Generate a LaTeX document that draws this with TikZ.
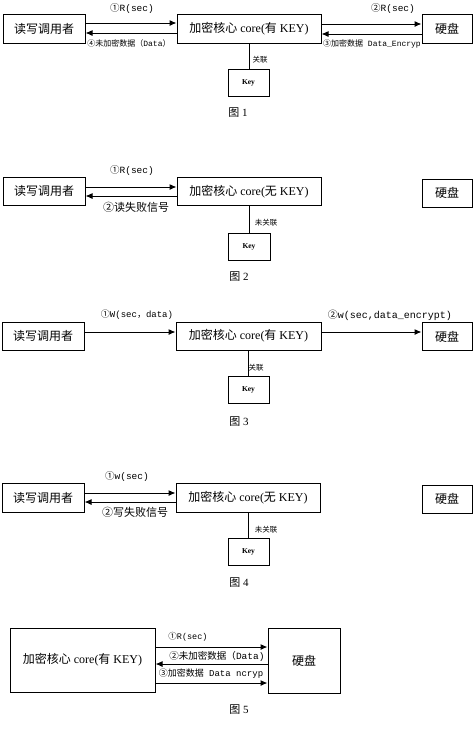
\documentclass[tikz,border=0pt]{standalone}
\usepackage{fontspec}
\setmainfont{Liberation Serif}
\setmonofont{Liberation Mono}
\newfontfamily\cjk{Noto Sans CJK SC}
\usetikzlibrary{arrows.meta}
\tikzset{
  box/.style={draw, line width=1pt, inner sep=0pt, font=\fontsize{12}{14}\selectfont},
  keybox/.style={draw, line width=1pt, inner sep=0pt, minimum width=41pt, minimum height=27pt, font=\bfseries\fontsize{7.5}{9}\selectfont},
  lab/.style={inner sep=0pt, font=\ttfamily\fontsize{9.5}{11}\selectfont},
  small/.style={inner sep=0pt, font=\cjk\fontsize{7.5}{9}\selectfont},
  figcap/.style={inner sep=0pt, font=\fontsize{11}{13}\selectfont},
  arr/.style={line width=1pt, -{Latex[length=7pt,width=6pt]}},
  conn/.style={line width=1pt}
}
\newcommand{\corehas}{{\cjk 加密核心} core({\cjk 有} KEY)}
\newcommand{\coreno}{{\cjk 加密核心} core({\cjk 无} KEY)}
\begin{document}
\begin{tikzpicture}[x=1pt,y=-1pt]
\useasboundingbox (0,0) rectangle (474,742);
% ---------- Figure 1 ----------
\node[box, minimum width=82pt, minimum height=29pt] (rw1) at (44,28.5) {\cjk 读写调用者};
\node[box, minimum width=144pt, minimum height=29pt] (core1) at (249,28.5) {\corehas};
\node[box, minimum width=50pt, minimum height=29pt] (disk1) at (447,28.5) {\cjk 硬盘};
\node[keybox] (key1) at (248.5,82.5) {Key};
\draw[arr] ([yshift=5.5pt]rw1.east) -- ([yshift=5.5pt]core1.west);
\draw[arr] ([yshift=-4.5pt]core1.west) -- ([yshift=-4.5pt]rw1.east);
\draw[arr] ([yshift=4.5pt]core1.east) -- ([yshift=4.5pt]disk1.west);
\draw[arr] ([yshift=-5.5pt]disk1.west) -- ([yshift=-5.5pt]core1.east);
\draw[conn] (core1.south) -- (core1.south |- key1.north);
\node[lab] (l11) at (132,8) {{\cjk ①}R(sec)};
\node[lab, font=\ttfamily\fontsize{8}{10}\selectfont] (l14) at (129,43.5) {{\cjk ④未加密数据（}Data{\cjk ）}};
\node[lab] (l12) at (393,8) {{\cjk ②}R(sec)};
\node[lab, font=\ttfamily\fontsize{8}{10}\selectfont] (l13) at (372,44) {{\cjk ③加密数据} Data\_Encryp};
\node[small] (a1) at (260,60) {关联};
\node[figcap] (c1) at (238,113) {{\cjk 图} 1};
% ---------- Figure 2 ----------
\node[box, minimum width=82pt, minimum height=28pt] (rw2) at (44,191) {\cjk 读写调用者};
\node[box, minimum width=144pt, minimum height=28pt] (core2) at (249,191.5) {\coreno};
\node[box, minimum width=50pt, minimum height=28pt] (disk2) at (447,193) {\cjk 硬盘};
\node[keybox, minimum width=42pt] (key2) at (249,246.5) {Key};
\draw[arr] ([yshift=4pt]rw2.east) -- ([yshift=4pt]rw2.east -| core2.west);
\draw[arr] ([yshift=-5pt]rw2.east -| core2.west) -- ([yshift=-5pt]rw2.east);
\draw[conn] (core2.south) -- (core2.south |- key2.north);
\node[lab] (l21) at (132,170) {{\cjk ①}R(sec)};
\node[lab, font=\cjk\fontsize{11}{13}\selectfont] (l22) at (136,207) {②读失败信号};
\node[small] (a2) at (266,223) {未关联};
\node[figcap] (c2) at (239,277) {{\cjk 图} 2};
% ---------- Figure 3 ----------
\node[box, minimum width=82pt, minimum height=28pt] (rw3) at (43,336) {\cjk 读写调用者};
\node[box, minimum width=145pt, minimum height=28pt] (core3) at (248.5,336) {\corehas};
\node[box, minimum width=50pt, minimum height=28pt] (disk3) at (447,336.5) {\cjk 硬盘};
\node[keybox] (key3) at (248.5,390) {Key};
\draw[arr] ([yshift=4pt]rw3.east) -- ([yshift=4pt]core3.west);
\draw[arr] ([yshift=4pt]core3.east) -- ([yshift=4pt]core3.east -| disk3.west);
\draw[conn] (core3.south) -- (core3.south |- key3.north);
\node[lab, font=\ttfamily\fontsize{9}{11}\selectfont] (l31) at (137,315) {{\cjk ①}W(sec{\cjk ，}data)};
\node[lab, font=\ttfamily\fontsize{10}{12}\selectfont] (l32) at (390,315) {{\cjk ②}w(sec,data\_encrypt)};
\node[small] (a3) at (256,368) {关联};
\node[figcap] (c3) at (239,422) {{\cjk 图} 3};
% ---------- Figure 4 ----------
\node[box, minimum width=82pt, minimum height=29pt] (rw4) at (43,497.5) {\cjk 读写调用者};
\node[box, minimum width=144pt, minimum height=29pt] (core4) at (248,497.5) {\coreno};
\node[box, minimum width=50pt, minimum height=28pt] (disk4) at (447,499) {\cjk 硬盘};
\node[keybox] (key4) at (248.5,551.5) {Key};
\draw[arr] ([yshift=4.5pt]rw4.east) -- ([yshift=4.5pt]core4.west);
\draw[arr] ([yshift=-4.5pt]core4.west) -- ([yshift=-4.5pt]rw4.east);
\draw[conn] (core4.south) -- (core4.south |- key4.north);
\node[lab] (l41) at (127,476) {{\cjk ①}w(sec)};
\node[lab, font=\cjk\fontsize{11}{13}\selectfont] (l42) at (135,512) {②写失败信号};
\node[small] (a4) at (266,530) {未关联};
\node[figcap] (c4) at (239,583) {{\cjk 图} 4};
% ---------- Figure 5 ----------
\node[box, minimum width=145pt, minimum height=64pt] (core5) at (82.5,660) {\corehas};
\node[box, minimum width=72pt, minimum height=65pt] (disk5) at (304,660.5) {\cjk 硬盘};
\draw[arr] ([yshift=13pt]core5.east) -- ([yshift=13pt]core5.east -| disk5.west);
\draw[arr] ([yshift=-4pt]core5.east -| disk5.west) -- ([yshift=-4pt]core5.east);
\draw[arr] ([yshift=-23pt]core5.east) -- ([yshift=-23pt]core5.east -| disk5.west);
\node[lab, font=\ttfamily\fontsize{8.5}{10}\selectfont] (l51) at (188,637) {{\cjk ①}R(sec)};
\node[lab] (l52) at (217,656) {{\cjk ②未加密数据（}Data)};
\node[lab, font=\ttfamily\fontsize{9}{11}\selectfont] (l53) at (211,674) {{\cjk ③加密数据} Data ncryp};
\node[figcap] (c5) at (239,710) {{\cjk 图} 5};
\end{tikzpicture}
\end{document}
